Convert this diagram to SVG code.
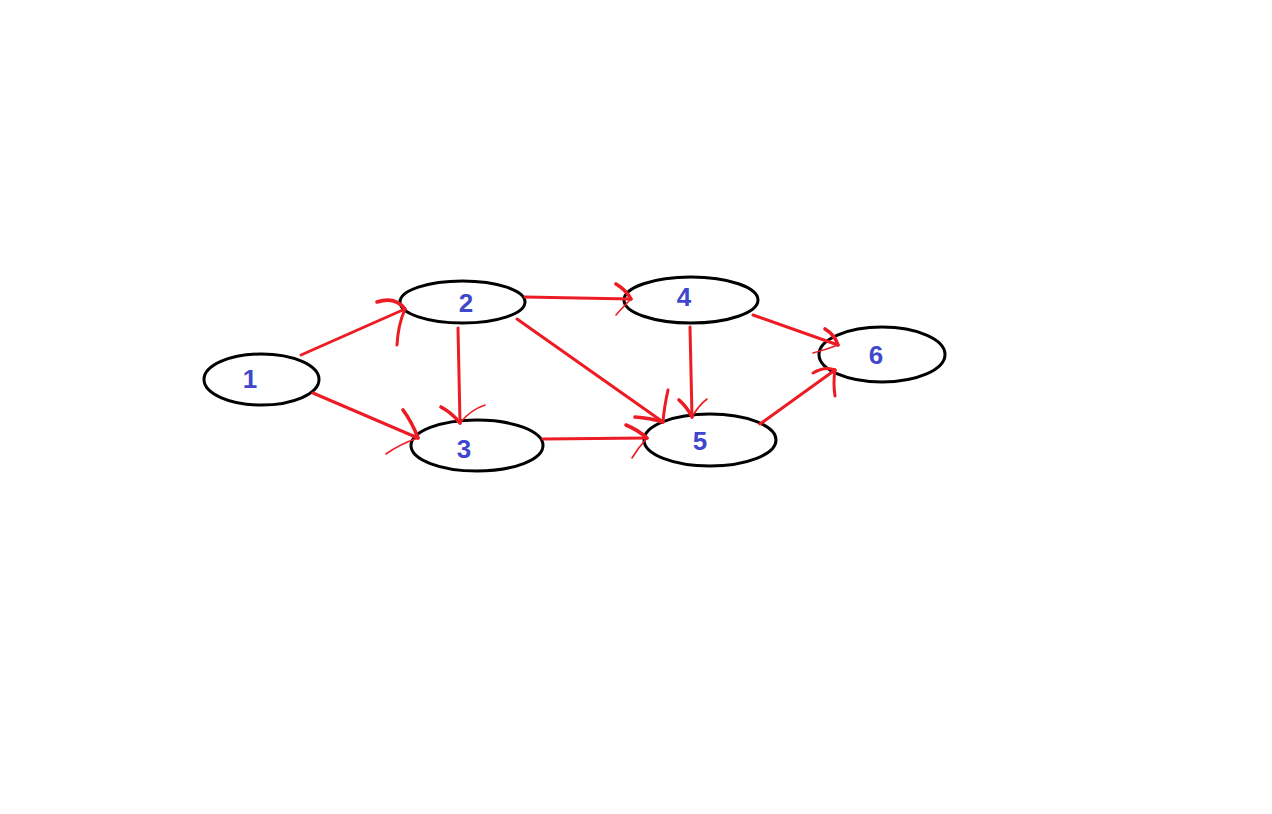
<svg xmlns="http://www.w3.org/2000/svg" width="1272" height="814" viewBox="0 0 1272 814">
<style>
.node ellipse{fill:#fff;stroke:#000;stroke-width:3}
.node text{font-family:"Liberation Sans",Arial,sans-serif;font-weight:bold;font-size:26px;fill:#3F48CC;text-anchor:middle;dominant-baseline:central}
.edge path{fill:none;stroke:#ED1C24;stroke-width:3;stroke-linecap:round;stroke-linejoin:round}
.edge .barb{stroke-width:3.6}
.edge .thin{stroke-width:1.6}
</style>
<rect width="1272" height="814" fill="#fff"/>
<g id="node-1" class="node"><ellipse cx="261.5" cy="379.5" rx="57.5" ry="25.5"/><text x="250" y="379">1</text></g>
<g id="node-2" class="node"><ellipse cx="462.5" cy="302" rx="62.5" ry="21"/><text x="466" y="303">2</text></g>
<g id="node-3" class="node"><ellipse cx="477" cy="445.5" rx="66" ry="25.5"/><text x="464" y="449">3</text></g>
<g id="node-4" class="node"><ellipse cx="691" cy="300" rx="67" ry="23"/><text x="684" y="297">4</text></g>
<g id="node-5" class="node"><ellipse cx="710" cy="440" rx="66" ry="26"/><text x="700" y="441">5</text></g>
<g id="node-6" class="node"><ellipse cx="882" cy="354.5" rx="63" ry="27.5"/><text x="876" y="355">6</text></g>
<g id="connectors" class="edge">
<g id="e1-2"><path d="M301,355 L405,309"/><path class="barb" d="M377,302 Q395,296 405,309"/><path d="M405,309 Q398,325 397,345"/></g>
<g id="e1-3"><path d="M313,393 L418,438"/><path class="barb" d="M403,410 Q412,422 418,438"/><path class="thin" d="M418,438 Q400,444 386,454"/></g>
<g id="e2-3"><path d="M458,328 L460,423"/><path class="barb" d="M441,407 Q452,413 460,423"/><path class="thin" d="M460,423 Q470,410 485,405"/></g>
<g id="e2-4"><path d="M525,297 L631,299"/><path class="barb" d="M616,284 Q626,290 631,299"/><path class="thin" d="M631,299 Q622,308 616,315"/></g>
<g id="e2-5"><path d="M517,319 L663,422"/><path d="M668,390 Q664,408 663,422"/><path class="barb" d="M635,417 Q650,418 663,422"/></g>
<g id="e3-5"><path d="M543,439 L647,438"/><path class="barb" d="M626,425 Q638,430 647,438"/><path class="thin" d="M647,438 Q638,448 632,458"/></g>
<g id="e4-5"><path d="M690,327 L692,417"/><path class="barb" d="M679,400 Q687,407 692,417"/><path class="thin" d="M692,417 Q699,405 707,399"/></g>
<g id="e4-6"><path d="M753,315 L838,345"/><path class="barb" d="M825,329 Q835,335 838,345"/><path class="thin" d="M838,345 Q825,350 813,353"/></g>
<g id="e5-6"><path d="M760,424 L835,370"/><path d="M813,373 Q825,366 835,370"/><path d="M835,370 Q833,383 835,396"/></g>
</g>
</svg>
